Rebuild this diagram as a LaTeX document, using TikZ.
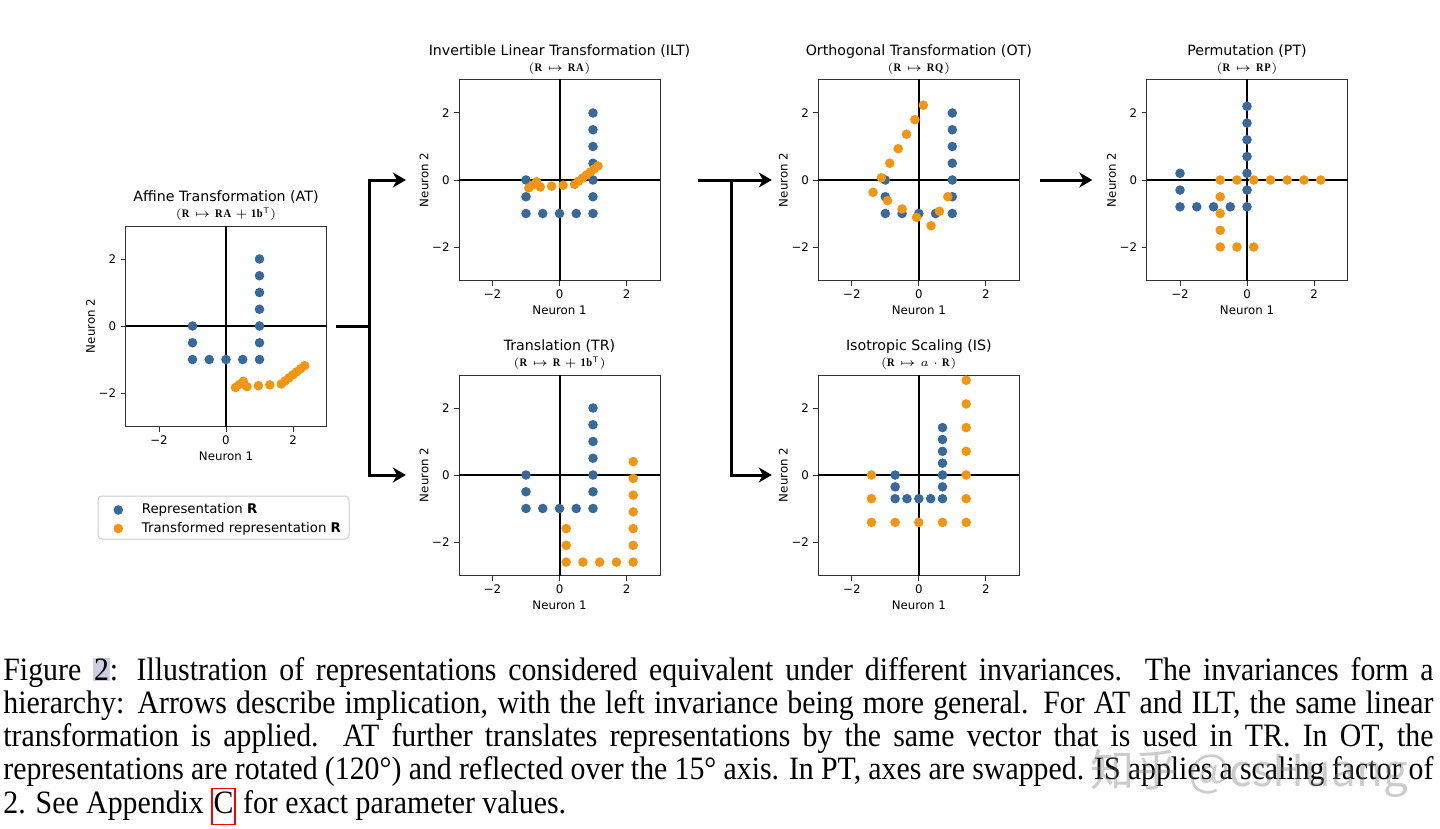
\documentclass[tikz,border=0pt]{standalone}
\usepackage{fix-cm}
\usepackage{fontspec}
\setmainfont[FakeStretch=0.915]{Liberation Serif}
\newfontfamily\plotfont{DejaVu Sans}
\newfontfamily\markfont{Noto Sans CJK SC}
\usetikzlibrary{arrows.meta,positioning}
\definecolor{repblue}{RGB}{55,105,155}
\definecolor{reporange}{RGB}{240,150,18}
\definecolor{hlgray}{RGB}{205,205,228}
\tikzset{
	axframe/.style={draw=black!80, line width=0.5pt, minimum width=100.5pt, minimum height=100pt, inner sep=0pt},
	zeroline/.style={line width=1pt},
	tickmark/.style={draw=black!80, line width=0.5pt},
	ticklab/.style={font=\plotfont\fontsize{5.9}{7}\selectfont, inner sep=0pt},
	ttl/.style={font=\plotfont\fontsize{7.1}{8.5}\selectfont, inner sep=0pt},
	subttl/.style={font=\fontsize{5.75}{7}\selectfont, inner sep=0pt},
	link/.style={line width=1.5pt},
	arr/.style={link, -{Stealth[length=6.5pt, width=7.5pt, inset=2pt]}},
	dotB/.style={fill=repblue},
	dotO/.style={fill=reporange},
	legbox/.style={draw=black!20, rounded corners=2pt, line width=0.5pt, fill=white, inner sep=0pt},
	legtext/.style={font=\plotfont\fontsize{6.65}{8}\selectfont, inner sep=0pt, anchor=west},
}
\def\Rpts{-1/0,-1/-0.5,-1/-1,-0.5/-1,0/-1,0.5/-1,1/-1,1/-0.5,1/0,1/0.5,1/1,1/1.5,1/2}
\def\dotr{2.4pt}
\newcommand{\panelaxes}[3]{%
	\draw[zeroline] (-3,0) -- (3,0) (0,-3) -- (0,3);
	\foreach \tk/\lab/\s in {-2/−2/a,0/0/b,2/2/c}{
		\draw[tickmark] (\tk,-3) -- ++(0,-2.5pt) (-3,\tk) -- ++(-2.5pt,0);
		\node[ticklab, anchor=north] (#1-x\s) at ([yshift=-4.5pt]\tk,-3) {\lab};
		\node[ticklab, anchor=east] (#1-y\s) at ([xshift=-4.5pt]-3,\tk) {\lab};
	}
	\node[ticklab] (#1-xl) at ([yshift=-15pt]0,-3) {Neuron 1};
	\node[ticklab, rotate=90] (#1-yl) at ([xshift=-17.5pt]-3,0) {Neuron 2};
	\node[ttl] (#1-t) at ([yshift=14pt]0,3) {#2};
	\node[subttl] (#1-s) at ([yshift=5.6pt]0,3) {#3};
}
\begin{document}
\begin{tikzpicture}[x=0.5pt, y=-0.5pt]
	\useasboundingbox (0,0) rectangle (1440,829);
	\fill[white] (0,0) rectangle (1440,829);

	\node[axframe] (aff) at (226,326) {};
	\begin{scope}[shift={(aff.center)}, x=16.75pt, y=16.75pt]
		\panelaxes{aff}{Affine Transformation (AT)}{$(\mathbf{R}\mapsto\mathbf{R}\mathbf{A}+\mathbf{1}\mathbf{b}^{\mathsf{T}})$}
		\foreach \px/\py in \Rpts
			\fill[dotB] (\px,\py) circle (\dotr);
		\foreach \px/\py in \Rpts
			\fill[dotO] ({0.683*\px+0.233*\py+1.2},{0.053*\px+0.183*\py-1.6}) circle (\dotr);
	\end{scope}

	\node[axframe] (ilt) at (559.5,180) {};
	\begin{scope}[shift={(ilt.center)}, x=16.75pt, y=16.75pt]
		\panelaxes{ilt}{Invertible Linear Transformation (ILT)}{$(\mathbf{R}\mapsto\mathbf{R}\mathbf{A})$}
		\foreach \px/\py in \Rpts
			\fill[dotB] (\px,\py) circle (\dotr);
		\foreach \px/\py in \Rpts
			\fill[dotO] ({0.683*\px+0.233*\py},{0.053*\px+0.183*\py}) circle (\dotr);
	\end{scope}

	\node[axframe] (trans) at (559.5,475) {};
	\begin{scope}[shift={(trans.center)}, x=16.75pt, y=16.75pt]
		\panelaxes{trans}{Translation (TR)}{$(\mathbf{R}\mapsto\mathbf{R}+\mathbf{1}\mathbf{b}^{\mathsf{T}})$}
		\foreach \px/\py in \Rpts
			\fill[dotB] (\px,\py) circle (\dotr);
		\foreach \px/\py in \Rpts
			\fill[dotO] ({\px+1.2},{\py-1.6}) circle (\dotr);
	\end{scope}

	\node[axframe] (orth) at (918.8,180) {};
	\begin{scope}[shift={(orth.center)}, x=16.75pt, y=16.75pt]
		\panelaxes{orth}{Orthogonal Transformation (OT)}{$(\mathbf{R}\mapsto\mathbf{R}\mathbf{Q})$}
		\foreach \px/\py in \Rpts
			\fill[dotB] (\px,\py) circle (\dotr);
		\foreach \px/\py in \Rpts
			\fill[dotO] ({-0.866*\px+0.5*\py},{0.5*\px+0.866*\py}) circle (\dotr);
	\end{scope}

	\node[axframe] (iso) at (918.8,475) {};
	\begin{scope}[shift={(iso.center)}, x=16.75pt, y=16.75pt]
		\panelaxes{iso}{Isotropic Scaling (IS)}{$(\mathbf{R}\mapsto a\cdot\mathbf{R})$}
		\foreach \px/\py in \Rpts
			\fill[dotB] ({0.7071*\px},{0.7071*\py}) circle (\dotr);
		\foreach \px/\py in \Rpts
			\fill[dotO] ({1.4142*\px},{1.4142*\py}) circle (\dotr);
	\end{scope}

	\node[axframe] (perm) at (1247,180) {};
	\begin{scope}[shift={(perm.center)}, x=16.75pt, y=16.75pt]
		\panelaxes{perm}{Permutation (PT)}{$(\mathbf{R}\mapsto\mathbf{R}\mathbf{P})$}
		\foreach \px/\py in \Rpts
			\fill[dotB] ({\px-1},{\py+0.2}) circle (\dotr);
		\foreach \px/\py in \Rpts
			\fill[dotO] ({\py+0.2},{\px-1}) circle (\dotr);
	\end{scope}

	\coordinate (j1) at ([xshift=21pt]aff.east);
	\coordinate (j2) at ([xshift=35.5pt]ilt.east);
	\draw[link] ([xshift=4.5pt]aff.east) -- (j1);
	\draw[arr] (j1) |- ([xshift=-26.3pt]ilt.west);
	\draw[arr] (j1) |- ([xshift=-26.3pt]trans.west);
	\draw[arr] ([xshift=18.5pt]ilt.east) -- ([xshift=-23pt]orth.west);
	\draw[arr] (j2) |- ([xshift=-23pt]iso.west);
	\draw[arr] ([xshift=10.25pt]orth.east) -- ([xshift=-26.85pt]perm.west);

	\node[legbox, minimum width=125.5pt, minimum height=21.5pt] (leg) at (223.5,517.5) {};
	\fill[dotB] (118.3,510) circle (\dotr);
	\fill[dotO] (118.3,528.5) circle (\dotr);
	\node[legtext] (legB) at (141.5,510) {Representation \textbf{R}};
	\node[legtext] (legO) at (141.5,528.5) {Transformed representation \textbf{R}};

	\node[anchor=north west, inner sep=0pt, text width=715pt, align=justify, font=\fontsize{16.3}{16.6}\selectfont] (cap) at (3,657) {\noindent Figure {\setlength{\fboxsep}{0.5pt}\colorbox{hlgray}{2}}: Illustration of representations considered equivalent under different invariances. The invariances form a\linebreak hierarchy: Arrows describe implication, with the left invariance being more general. For AT and ILT, the same linear\linebreak transformation is applied. AT further translates representations by the same vector that is used in TR. In OT, the\linebreak representations are rotated (120°) and reflected over the 15° axis. In PT, axes are swapped. IS applies a scaling factor of\linebreak 2. See Appendix {\setlength{\fboxsep}{0.5pt}\setlength{\fboxrule}{0.6pt}\fcolorbox{red}{white}{\strut C}} for exact parameter values.};

	\node[anchor=west, inner sep=0pt, font=\markfont\fontsize{22}{24}\selectfont, text=gray, text opacity=0.4] (wm) at (1090,773) {知乎 @csHuang};
\end{tikzpicture}
\end{document}
